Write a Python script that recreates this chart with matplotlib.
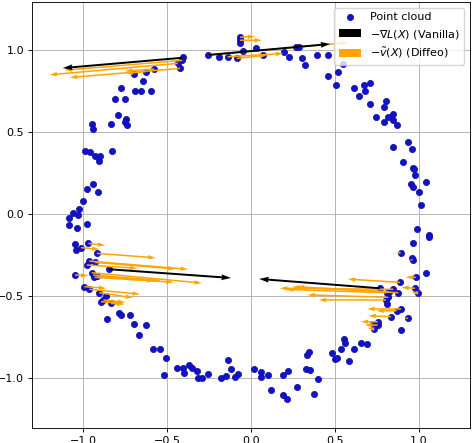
import numpy as np
import matplotlib
matplotlib.use("Agg")
import matplotlib.pyplot as plt

# point cloud (x, y)
cloud_xy = np.array([
    # top-left
    (-0.405, 0.955), (-0.41, 0.937), (-0.436, 0.919), (-0.423, 0.888), (-0.577, 0.884),
    (-0.627, 0.868), (-0.696, 0.852), (-0.641, 0.809), (-0.690, 0.750), (-0.655, 0.750),
    (-0.595, 0.748), (-0.772, 0.770), (-0.810, 0.699), (-0.750, 0.701), (-0.793, 0.602),
    (-0.744, 0.579), (-0.748, 0.563), (-0.740, 0.543), (-0.833, 0.551), (-0.948, 0.547),
    (-0.942, 0.518), (-0.988, 0.384), (-0.957, 0.378), (-0.930, 0.355), (-0.901, 0.354),
    (-0.905, 0.325), (-0.829, 0.386), (-0.978, 0.152), (-0.939, 0.181), (-0.912, 0.134),
    (-1.002, 0.079), (-1.024, 0.029), (-1.058, 0.004), (-1.032, -0.004), (-1.083, -0.024),
    # bottom-left
    (-1.085, -0.067), (-1.037, -0.083), (-0.976, -0.061), (-1.048, -0.183), (-1.044, -0.220),
    (-1.012, -0.205), (-0.968, -0.179), (-0.918, -0.240), (-0.962, -0.287), (-0.929, -0.295),
    (-0.978, -0.311), (-0.843, -0.337), (-1.048, -0.372), (-0.948, -0.358), (-0.932, -0.386),
    (-0.918, -0.378), (-0.992, -0.443), (-0.962, -0.459), (-0.903, -0.480), (-0.863, -0.500),
    (-0.893, -0.535), (-0.879, -0.524), (-0.833, -0.545), (-0.859, -0.640), (-0.784, -0.602),
    (-0.774, -0.616), (-0.720, -0.614), (-0.694, -0.671), (-0.625, -0.677), (-0.665, -0.738),
    (-0.585, -0.821), (-0.542, -0.821), (-0.508, -0.878), (-0.516, -0.980), (-0.442, -0.937),
    (-0.407, -0.937), (-0.401, -0.967), (-0.367, -0.923), (-0.353, -0.941), (-0.323, -0.955),
    (-0.314, -1.002), (-0.292, -1.002), (-0.254, -0.978), (-0.179, -1.002), (-0.149, -0.986),
    (-0.135, -0.888), (-0.119, -0.945), (-0.095, -0.992), (-0.079, -0.978),
    # bottom-right
    (0.020, -0.947), (0.058, -0.963), (0.058, -0.996), (0.099, -0.984), (0.117, -1.071),
    (0.189, -1.104), (0.212, -1.130), (0.192, -0.984), (0.222, -0.957), (0.272, -1.053),
    (0.327, -0.947), (0.351, -0.951), (0.375, -1.096), (0.401, -1.004), (0.335, -0.860),
    (0.345, -0.840), (0.482, -0.848), (0.500, -0.886), (0.514, -0.880), (0.534, -0.823),
    (0.556, -0.764), (0.560, -0.789), (0.583, -0.898), (0.615, -0.821), (0.657, -0.785),
    (0.689, -0.795), (0.734, -0.703), (0.754, -0.677), (0.724, -0.671), (0.754, -0.657),
    (0.833, -0.626), (0.891, -0.707), (0.935, -0.636), (0.893, -0.579), (0.867, -0.590),
    (0.808, -0.549), (0.804, -0.524), (0.817, -0.508), (0.808, -0.480), (0.768, -0.453),
    (0.823, -0.474), (0.847, -0.459), (0.877, -0.480), (0.887, -0.417), (0.982, -0.386),
    (0.976, -0.453), (0.996, -0.480), (1.042, -0.360), (0.962, -0.280), (0.956, -0.270),
    (0.891, -0.236), (0.966, -0.175), (0.986, -0.090), (1.061, -0.128), (1.061, -0.142),
    (1.010, 0.057),
    # top-right
    (-0.254, 0.970), (-0.189, 0.959), (-0.139, 0.959), (-0.085, 0.949), (-0.065, 1.078),
    (-0.065, 1.060), (-0.065, 1.045), (-0.046, 0.994), (0.030, 1.014), (0.073, 0.970),
    (0.198, 0.986), (0.228, 0.955), (0.266, 1.020), (0.286, 1.020), (0.302, 0.953),
    (0.321, 0.909), (0.391, 0.970), (0.460, 0.970), (0.546, 0.913), (0.460, 0.843),
    (0.520, 0.868), (0.506, 0.787), (0.613, 0.770), (0.645, 0.720), (0.675, 0.787),
    (0.679, 0.752), (0.708, 0.797), (0.708, 0.669), (0.742, 0.593), (0.790, 0.561),
    (0.804, 0.689), (0.794, 0.650), (0.817, 0.590), (0.843, 0.608), (0.843, 0.573),
    (0.867, 0.545), (0.843, 0.407), (0.937, 0.441), (0.960, 0.394), (0.903, 0.315),
    (0.962, 0.282), (0.972, 0.274), (0.976, 0.238), (0.950, 0.181), (0.966, 0.166),
    (1.042, 0.197), (1.002, 0.132),
])

# vanilla gradient arrows: origin and vector
vanilla_xy = np.array([(-0.407, 0.953), (-0.254, 0.970), (-0.843, -0.337), (0.768, -0.453)])
vanilla_uv = np.array([(-0.714, -0.063), (0.726, 0.067), (0.724, -0.053), (-0.720, 0.057)])

# diffeo arrows: origin and vector
diffeo_xy = np.array([
    (-0.436, 0.919), (-0.423, 0.888), (-0.41, 0.937), (-0.577, 0.884), (-0.627, 0.868),
    (-0.065, 1.078), (-0.065, 1.060), (-0.139, 0.959), (-0.085, 0.949), (-0.254, 0.970),
    (-0.968, -0.179), (-1.012, -0.205), (-0.918, -0.240), (-0.962, -0.287), (-0.929, -0.295),
    (-0.978, -0.311), (-1.048, -0.372), (-0.948, -0.358), (-0.939, -0.372), (-0.932, -0.386),
    (-0.918, -0.378), (-0.992, -0.443), (-0.962, -0.459), (-0.903, -0.480), (-0.879, -0.524),
    (-0.893, -0.535), (-0.833, -0.545),
    (0.891, -0.236), (0.962, -0.280), (0.982, -0.386), (0.887, -0.417), (0.847, -0.459),
    (0.877, -0.480), (0.823, -0.474), (0.808, -0.480), (0.817, -0.508), (0.804, -0.524),
    (0.976, -0.453), (0.996, -0.480), (0.893, -0.579), (0.867, -0.590), (0.833, -0.626),
    (0.935, -0.636), (0.754, -0.657), (0.754, -0.677), (0.734, -0.703),
])
diffeo_uv = np.array([
    (-0.763, -0.070), (-0.655, -0.055), (-0.70, -0.06), (-0.173, -0.012), (-0.12, -0.01),
    (0.09, 0.005), (0.13, 0.0), (0.33, 0.02), (0.18, 0.02), (0.83, 0.075),
    (0.10, -0.012), (0.11, -0.01), (0.35, -0.027), (0.586, -0.05), (0.48, -0.04),
    (0.30, -0.02), (0.08, -0.004), (0.655, -0.063), (0.40, -0.034), (0.47, -0.03),
    (0.34, -0.03), (0.13, -0.01), (0.30, -0.03), (0.20, -0.03), (0.13, -0.015),
    (0.13, -0.01), (0.08, -0.005),
    (-0.025, 0.0), (-0.02, 0.0), (-0.06, 0.0), (-0.31, 0.02), (-0.674, 0.006),
    (-0.63, 0.036), (-0.55, 0.03), (-0.60, 0.02), (-0.48, 0.015), (-0.40, 0.0),
    (-0.08, 0.006), (-0.04, 0.0), (-0.2, 0.0), (-0.12, 0.0), (-0.133, 0.006),
    (-0.02, 0.0), (-0.10, 0.0), (-0.075, 0.0), (-0.04, 0.01),
])

# the reference looks like a default figure shrunk to 80 %
plt.rcParams.update({
    'font.size': 8,
    'axes.linewidth': 0.64,
    'grid.linewidth': 0.64,
    'xtick.major.size': 2.8, 'ytick.major.size': 2.8,
    'xtick.major.width': 0.64, 'ytick.major.width': 0.64,
    'xtick.major.pad': 2.8, 'ytick.major.pad': 2.8,
})

fig = plt.figure(figsize=(4.74, 4.43), dpi=100)
ax = fig.add_axes([32 / 474, 1 - 428 / 443, 438 / 474, 426 / 443])

ax.scatter(cloud_xy[:, 0], cloud_xy[:, 1], s=20, c='#1212cc', edgecolors='#0a0a99',
           linewidths=0.5, label='Point cloud', zorder=2)
ax.quiver(vanilla_xy[:, 0], vanilla_xy[:, 1], vanilla_uv[:, 0], vanilla_uv[:, 1],
          angles='xy', scale_units='xy', scale=1, color='black', width=0.0045,
          label=r'$-\nabla L(X)$ (Vanilla)', zorder=4)
ax.quiver(diffeo_xy[:, 0], diffeo_xy[:, 1], diffeo_uv[:, 0], diffeo_uv[:, 1],
          angles='xy', scale_units='xy', scale=1, color='orange', width=0.0035,
          label=r'$-\tilde{v}(X)$ (Diffeo)', zorder=3)

ax.set_xlim(-1.304, 1.304)
ax.set_ylim(-1.305, 1.293)
ax.set_xticks([-1.0, -0.5, 0.0, 0.5, 1.0])
ax.set_yticks([-1.0, -0.5, 0.0, 0.5, 1.0])
ax.grid(True)
ax.set_axisbelow(True)
ax.legend(loc='upper right')

fig.savefig('out.png', dpi=100)
